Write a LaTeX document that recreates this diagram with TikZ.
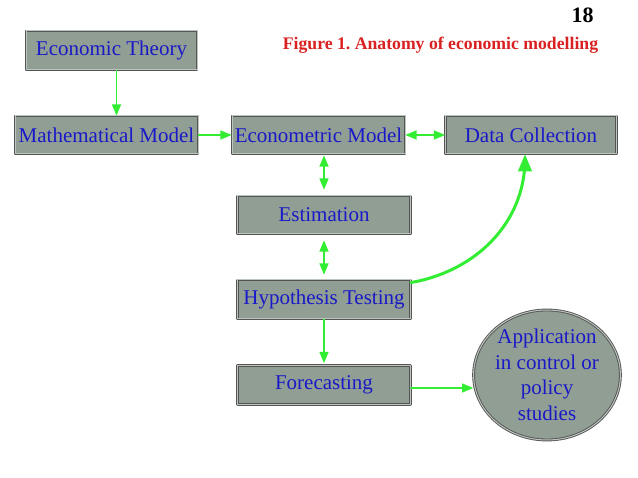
\documentclass[tikz,border=0pt]{standalone}
\usepackage{fontspec}
\setmainfont{Liberation Serif}
\usepackage{tikz}
\usetikzlibrary{arrows,shapes.geometric}
\definecolor{ttffqq}{rgb}{0.2,0.93,0.2}
\definecolor{zwzdzu}{rgb}{0.57,0.62,0.58}
\definecolor{rrrrcy}{rgb}{0.1,0.1,0.78}
\definecolor{vvvvvv}{rgb}{0.33,0.33,0.33}
\definecolor{ddssss}{rgb}{0.85,0.13,0.13}
\frenchspacing

\begin{document}
\begin{tikzpicture}[line cap=round,line join=round,>=triangle 45,x=1pt,y=-1pt,
	modelbox/.style={draw=vvvvvv,double=zwzdzu!60,double distance=1pt,line width=0.9pt,fill=zwzdzu,text=rrrrcy,minimum height=38pt,inner sep=0pt,font=\fontsize{21}{25.5}\selectfont},
	flow/.style={color=ttffqq,line width=1.6pt},
	bigflow/.style={color=ttffqq,line width=3pt}]
	\useasboundingbox (0,0) rectangle (638,478);
	\node[font=\bfseries\fontsize{22}{26}\selectfont] (pagenum) at (582.5,15) {18};
	\node[text=ddssss,font=\bfseries\fontsize{17.7}{21}\selectfont] (caption) at (440.5,45) {Figure 1. Anatomy of economic modelling};
	\node[modelbox,minimum width=171pt,minimum height=39pt] (theory) at (111.5,50.5) {Economic Theory};
	\node[modelbox,minimum width=183pt] (mathmodel) at (106.5,135) {Mathematical Model};
	\node[modelbox,minimum width=173pt] (ecomodel) at (318.5,135) {Econometric Model};
	\node[modelbox,minimum width=171pt] (datacoll) at (531,135) {Data Collection};
	\node[modelbox,minimum width=173pt] (estim) at (324,215) {Estimation};
	\node[modelbox,minimum width=173pt,minimum height=39pt] (hyptest) at (324,299.5) {Hypothesis Testing};
	\node[modelbox,minimum width=173pt,minimum height=39pt] (forecast) at (324,385) {Forecasting};
	\node[modelbox,ellipse,minimum width=141pt,minimum height=130pt,align=center] (applic) at (547,375) {Application\\in control or\\policy\\studies};
	% arrows
	\draw[->,flow] ([xshift=5pt]theory.south) -- ([xshift=5pt]theory.south |- mathmodel.north);
	\draw[->,flow] (mathmodel.east) -- (ecomodel.west);
	\draw[<->,flow] (ecomodel.east) -- (datacoll.west);
	\draw[<->,flow,shorten <=1pt,shorten >=6pt] (estim.north |- ecomodel.south) -- (estim.north);
	\draw[<->,flow,shorten <=6pt,shorten >=5pt] (estim.south) -- (hyptest.north);
	\draw[->,flow,shorten >=2pt] (hyptest.south) -- (forecast.north);
	\draw[->,flow] ([yshift=-3pt]forecast.east) -- ([yshift=-3pt]forecast.east -| applic.west);
	\draw[->,bigflow] ([yshift=-3pt]hyptest.north east) to[out=10,in=-90] ([xshift=-6pt]datacoll.south);
\end{tikzpicture}
\end{document}
